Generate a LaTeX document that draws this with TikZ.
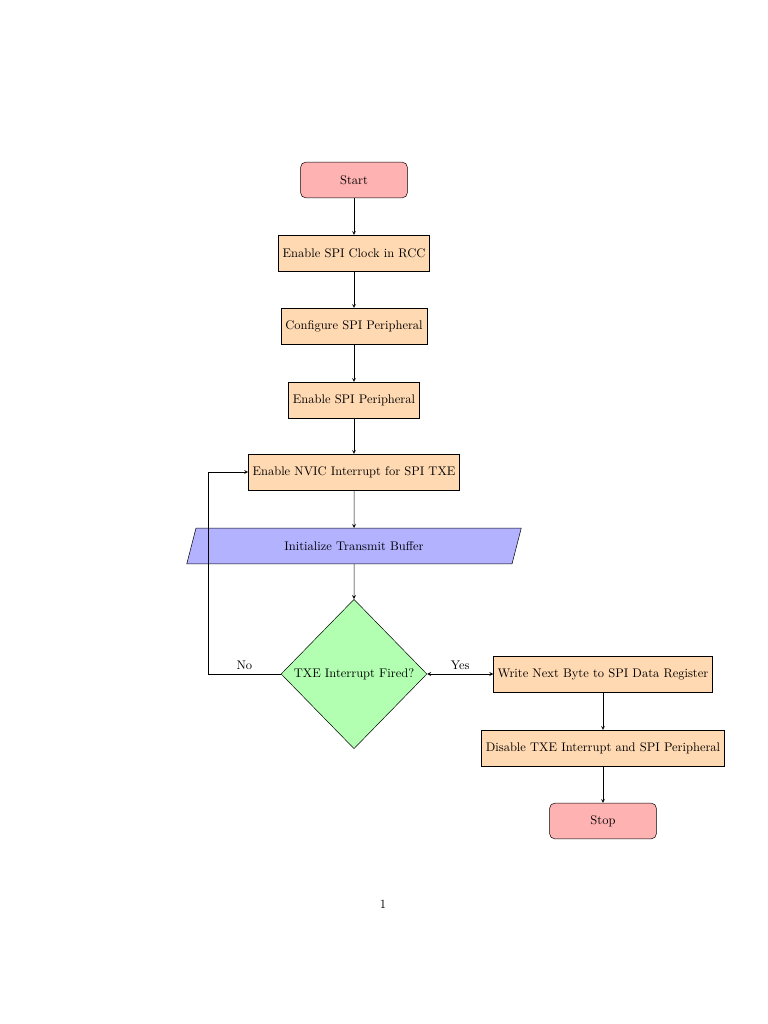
\documentclass[tikz,border=0pt]{standalone}
\usepackage{tikz}
\usetikzlibrary{shapes.geometric}

\tikzset{
    startstop/.style={rectangle,rounded corners,draw,fill=red!30,minimum width=3cm,minimum height=1cm},
    process/.style={rectangle,draw,fill=orange!30,minimum width=3cm,minimum height=1cm},
    io/.style={trapezium,trapezium left angle=62,trapezium right angle=118,trapezium stretches body,draw,fill=blue!30,minimum width=9.4cm,minimum height=1cm},
    decision/.style={diamond,draw,fill=green!30,minimum width=4.1cm,minimum height=4.2cm,inner sep=0pt},
}

\begin{document}
\begin{tikzpicture}[x=0.02811cm,y=-0.02811cm,>=stealth]
    \useasboundingbox (0,0) rectangle (768,1024);

    % main column
    \node[startstop] (start) at (354,180) {Start};
    \node[process] (clock) at (354,253) {Enable SPI Clock in RCC};
    \node[process] (config) at (354,326) {Configure SPI Peripheral};
    \node[process] (enable) at (354,400) {Enable SPI Peripheral};
    \node[process] (nvic) at (354,472) {Enable NVIC Interrupt for SPI TXE};
    \node[io] (buffer) at (354,546) {Initialize Transmit Buffer};
    \node[decision] (txe) at (354,674) {TXE Interrupt Fired?};

    % right column
    \node[process] (write) at (603,674) {Write Next Byte to SPI Data Register};
    \node[process] (disable) at (603,748) {Disable TXE Interrupt and SPI Peripheral};
    \node[startstop] (stop) at (603,821) {Stop};

    \coordinate (loop) at (208,674);

    % arrows
    \draw[->] (start) -- (clock);
    \draw[->] (clock) -- (config);
    \draw[->] (config) -- (enable);
    \draw[->] (enable) -- (nvic);
    \draw[->] (nvic) -- (buffer);
    \draw[->] (buffer) -- (txe);
    \draw[<->] (txe) -- node[above] {Yes} (write);
    \draw[->] (txe) -- node[above] {No} (loop) |- (nvic);
    \draw[->] (write) -- (disable);
    \draw[->] (disable) -- (stop);

    % page number
    \node (page) at (383,904) {1};
\end{tikzpicture}
\end{document}
